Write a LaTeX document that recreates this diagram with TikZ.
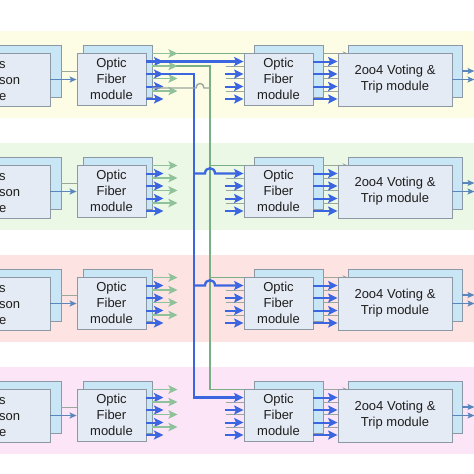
\documentclass[tikz,border=0pt]{standalone}
\usepackage{fontspec}
\setmainfont{Liberation Sans}
\usetikzlibrary{arrows.meta,calc}
\definecolor{bandA}{HTML}{FDFDE6}
\definecolor{bandB}{HTML}{EAF8E5}
\definecolor{bandC}{HTML}{FDE3E1}
\definecolor{bandD}{HTML}{FCE5F7}
\definecolor{frontfill}{HTML}{E5EBF4}
\definecolor{backfill}{HTML}{C9E6F7}
\definecolor{boxline}{HTML}{8C98A4}
\definecolor{arrblue}{HTML}{3C66E0}
\definecolor{arrgreen}{HTML}{8FC29B}
\definecolor{busgreen}{HTML}{78AF84}
\definecolor{grayline}{HTML}{9AA89C}
\definecolor{steel}{HTML}{5A86BE}
\definecolor{txt}{HTML}{1E1E1E}
\newcommand\mybxfont{\fontsize{13}{16}\selectfont}
\begin{document}
\begin{tikzpicture}[x=1pt,y=-1pt,
  band/.style={fill=#1,draw=none},
  frontbox/.style={draw=boxline,fill=frontfill,line width=0.9pt,inner sep=0pt,align=center,font=\mybxfont,text=txt},
  backbox/.style={draw=boxline,fill=backfill,line width=0.9pt,inner sep=0pt},
  barrow/.style={draw=arrblue,line width=2pt,-{Stealth[length=9.5pt,width=9pt,inset=2pt]}},
  garrow/.style={draw=arrgreen,line width=1.8pt,-{Stealth[length=9pt,width=8.5pt,inset=2pt]}},
  bbus/.style={draw=arrblue,line width=2.3pt},
  gbus/.style={draw=busgreen,line width=1.9pt},
  gthin/.style={draw=grayline,line width=1pt,-{Stealth[length=5pt,width=4.5pt]}},
  sarrow/.style={draw=steel,line width=1.2pt,-{Stealth[length=7pt,width=6pt,inset=1.5pt]}}
]
\useasboundingbox (0,0) rectangle (474,474);
% bands
\foreach \k/\c in {0/bandA,1/bandB,2/bandC,3/bandD}{
  \pgfmathsetmacro\d{112*\k}
  \fill[band=\c] (0,{31+\d}) rectangle (474,{118+\d});
}
% back boxes
\foreach \k in {0,1,2,3}{
  \pgfmathsetmacro\d{112*\k}
  \node[backbox,minimum width=130pt,minimum height=52pt] (srcB\k) at (-4,{71+\d}) {};
  \node[backbox,minimum width=69pt,minimum height=52pt] (ofaB\k) at (117.5,{71+\d}) {};
  \node[backbox,minimum width=69pt,minimum height=52pt] (ofbB\k) at (288.5,{71+\d}) {};
  \node[backbox,minimum width=114pt,minimum height=52pt] (votB\k) at (405,{71+\d}) {};
  % back connections
  \draw[grayline,line width=1pt] (srcB\k.east) -- (ofaB\k.west |- srcB\k.east);
  \foreach \o in {-17.5,-5,7.5,20}{
    \draw[gthin] ($(ofbB\k.east)+(0,\o)$) coordinate (q) -- (votB\k.west |- q);
  }
  \foreach \o in {-5,7.5,20}{
    \draw[gthin] ($(ofbB\k.west)+(-28,\o)$) -- ($(ofbB\k.west)+(0,\o)$);
  }
}
% green bus (from the back module of channel 1)
\coordinate (g1) at ($(ofaB0.east)+(0,-17.5)$);
\coordinate (g2) at ($(ofaB0.east)+(0,-5)$);
\draw[gbus] (g1) -- (ofbB0.west |- g1);
\coordinate (gt) at (210,66);
\coordinate (gb) at (210,389.5);
\draw[gbus] (g2) -- (gt) -- (gb) -- (ofbB3.west |- gb);
\coordinate (gj1) at (210,165.5);
\coordinate (gj2) at (210,277.5);
\draw[gbus] (gj1) -- (ofbB1.west |- gj1);
\draw[gbus] (gj2) -- (ofbB2.west |- gj2);
% front boxes
\foreach \k in {0,1,2,3}{
  \pgfmathsetmacro\d{112*\k}
  \node[frontbox,minimum width=130pt,minimum height=53pt] (src\k) at (-15,{79.5+\d}) {Probes\\Comparison\\module};
  \node[frontbox,minimum width=69pt,minimum height=52pt] (ofa\k) at (111.5,{79+\d}) {Optic\\Fiber\\module};
  \node[frontbox,minimum width=69pt,minimum height=52pt] (ofb\k) at (278.5,{79+\d}) {Optic\\Fiber\\module};
  \node[frontbox,minimum width=114pt,minimum height=53pt] (vot\k) at (395,{79.5+\d}) {2oo4 Voting \&\\Trip module};
  % source to optic fiber
  \draw[sarrow] (src\k.east) -- (ofa\k.west |- src\k.east);
  % optic fiber outputs
  \foreach \o in {-17.5,-5,7.5,20}{
    \draw[garrow] ($(ofaB\k.east)+(0,\o)$) -- ++(25,0);
    \draw[barrow] ($(ofa\k.east)+(0,\o)$) -- ++(17,0);
    \draw[barrow] ($(ofb\k.east)+(0,\o)$) coordinate (p) -- (vot\k.west |- p);
  }
  \foreach \o in {-5,7.5,20}{
    \draw[barrow] ($(ofb\k.west)+(-19,\o)$) -- ($(ofb\k.west)+(0,\o)$);
  }
  % voting outputs
  \draw[sarrow] (votB\k.east) -- ++(12,0);
  \draw[sarrow] (vot\k.east) -- ++(22,0);
}
% blue bus
\coordinate (s1) at ($(ofa0.east)+(0,-17.5)$);
\coordinate (s2) at ($(ofa0.east)+(0,-5)$);
\draw[bbus,-{Stealth[length=9.5pt,width=9pt,inset=2pt]}] (s1) -- (ofb0.west |- s1);
\coordinate (bt) at (194,74);
\coordinate (bb) at (194,397.5);
\draw[bbus,-{Stealth[length=9.5pt,width=9pt,inset=2pt]}] (s2) -- (bt) -- (bb) -- (ofb3.west |- bb);
\coordinate (bj1) at (194,173.5);
\coordinate (bj2) at (194,285.5);
\foreach \j/\n in {bj1/1,bj2/2}{
  \draw[bbus,-{Stealth[length=9.5pt,width=9pt,inset=2pt]}] (\j) -- ($(\j)+(11,0)$) .. controls ($(\j)+(11,-7)$) and ($(\j)+(21,-7)$) .. ($(\j)+(21,0)$) -- (ofb\n.west |- \j);
}
% crossing line with hop
\coordinate (h1) at ($(ofaB0.east)+(0,17)$);
\coordinate (h2) at (210,88);
\draw[draw=grayline,line width=1.4pt] (h1) -- (196,88) .. controls (196,82) and (204,82) .. (204,88) -- (h2);
\end{tikzpicture}
\end{document}
